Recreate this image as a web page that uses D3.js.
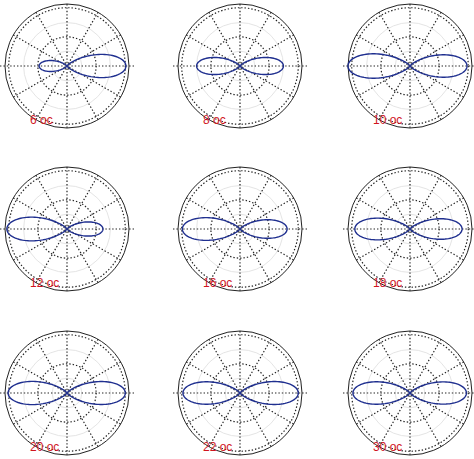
<!DOCTYPE html><html><head><script src="https://d3js.org/d3.v7.min.js"></script>
<style>body{margin:0;background:#fff}</style></head><body><svg id="c" width="474" height="459"></svg>
<script>
const labels=["6 oc","8 oc","10 oc","12 oc","16 oc","18 oc","20 oc","22 oc","30 oc"];
const rightLobe=[0.95,0.70,0.92,0.58,0.76,0.84,0.94,0.94,0.91];
const leftLobe=[0.45,0.70,1.0,0.97,0.93,0.89,0.95,0.92,0.92];
const lobeWidthExp=[9,9,9,9,9,9,9,9,9];
const colCenters=[67,240,410], rowCenters=[66,229,393], R=62;
const svg=d3.select("#c");
const rScale=d3.scaleLinear().domain([0,1]).range([0,R]);
labels.forEach((lab,i)=>{
  const cx=colCenters[i%3], cy=rowCenters[Math.floor(i/3)];
  const g=svg.append("g").attr("transform",`translate(${cx},${cy})`);
  [0.24,0.7].forEach(f=>g.append("circle").attr("r",rScale(f)).attr("fill","none").attr("stroke","#ddd").attr("stroke-width",0.8));
  [0.47,0.94].forEach(f=>g.append("circle").attr("r",rScale(f)).attr("fill","none").attr("stroke","#222").attr("stroke-width",1.2).attr("stroke-dasharray","1.4,2"));
  d3.range(0,180,30).forEach(a=>{const t=a*Math.PI/180, e=a===0?R+5:R;
    g.append("line").attr("x1",-e*Math.cos(t)).attr("y1",-e*Math.sin(t)).attr("x2",e*Math.cos(t)).attr("y2",e*Math.sin(t))
     .attr("stroke","#222").attr("stroke-width",1.2).attr("stroke-dasharray","1.4,2");});
  g.append("circle").attr("r",R).attr("fill","none").attr("stroke","#222").attr("stroke-width",1);
  const n=lobeWidthExp[i];
  const pts=d3.range(0,361,1).map(d=>{const t=d*Math.PI/180;const c=Math.cos(t);
    const L=c>=0?rightLobe[i]:leftLobe[i];return [t+Math.PI/2, rScale(L*Math.pow(Math.abs(c),n))];});
  g.append("path").attr("d",d3.lineRadial().curve(d3.curveLinearClosed)(pts)).attr("fill","none").attr("stroke","#1f2f8f").attr("stroke-width",1.4);
  g.append("text").attr("x",-37).attr("y",58).attr("fill","#d0141e").attr("font-family","Liberation Sans, Arial").attr("font-size",12).text(lab);
});
</script></body></html>
